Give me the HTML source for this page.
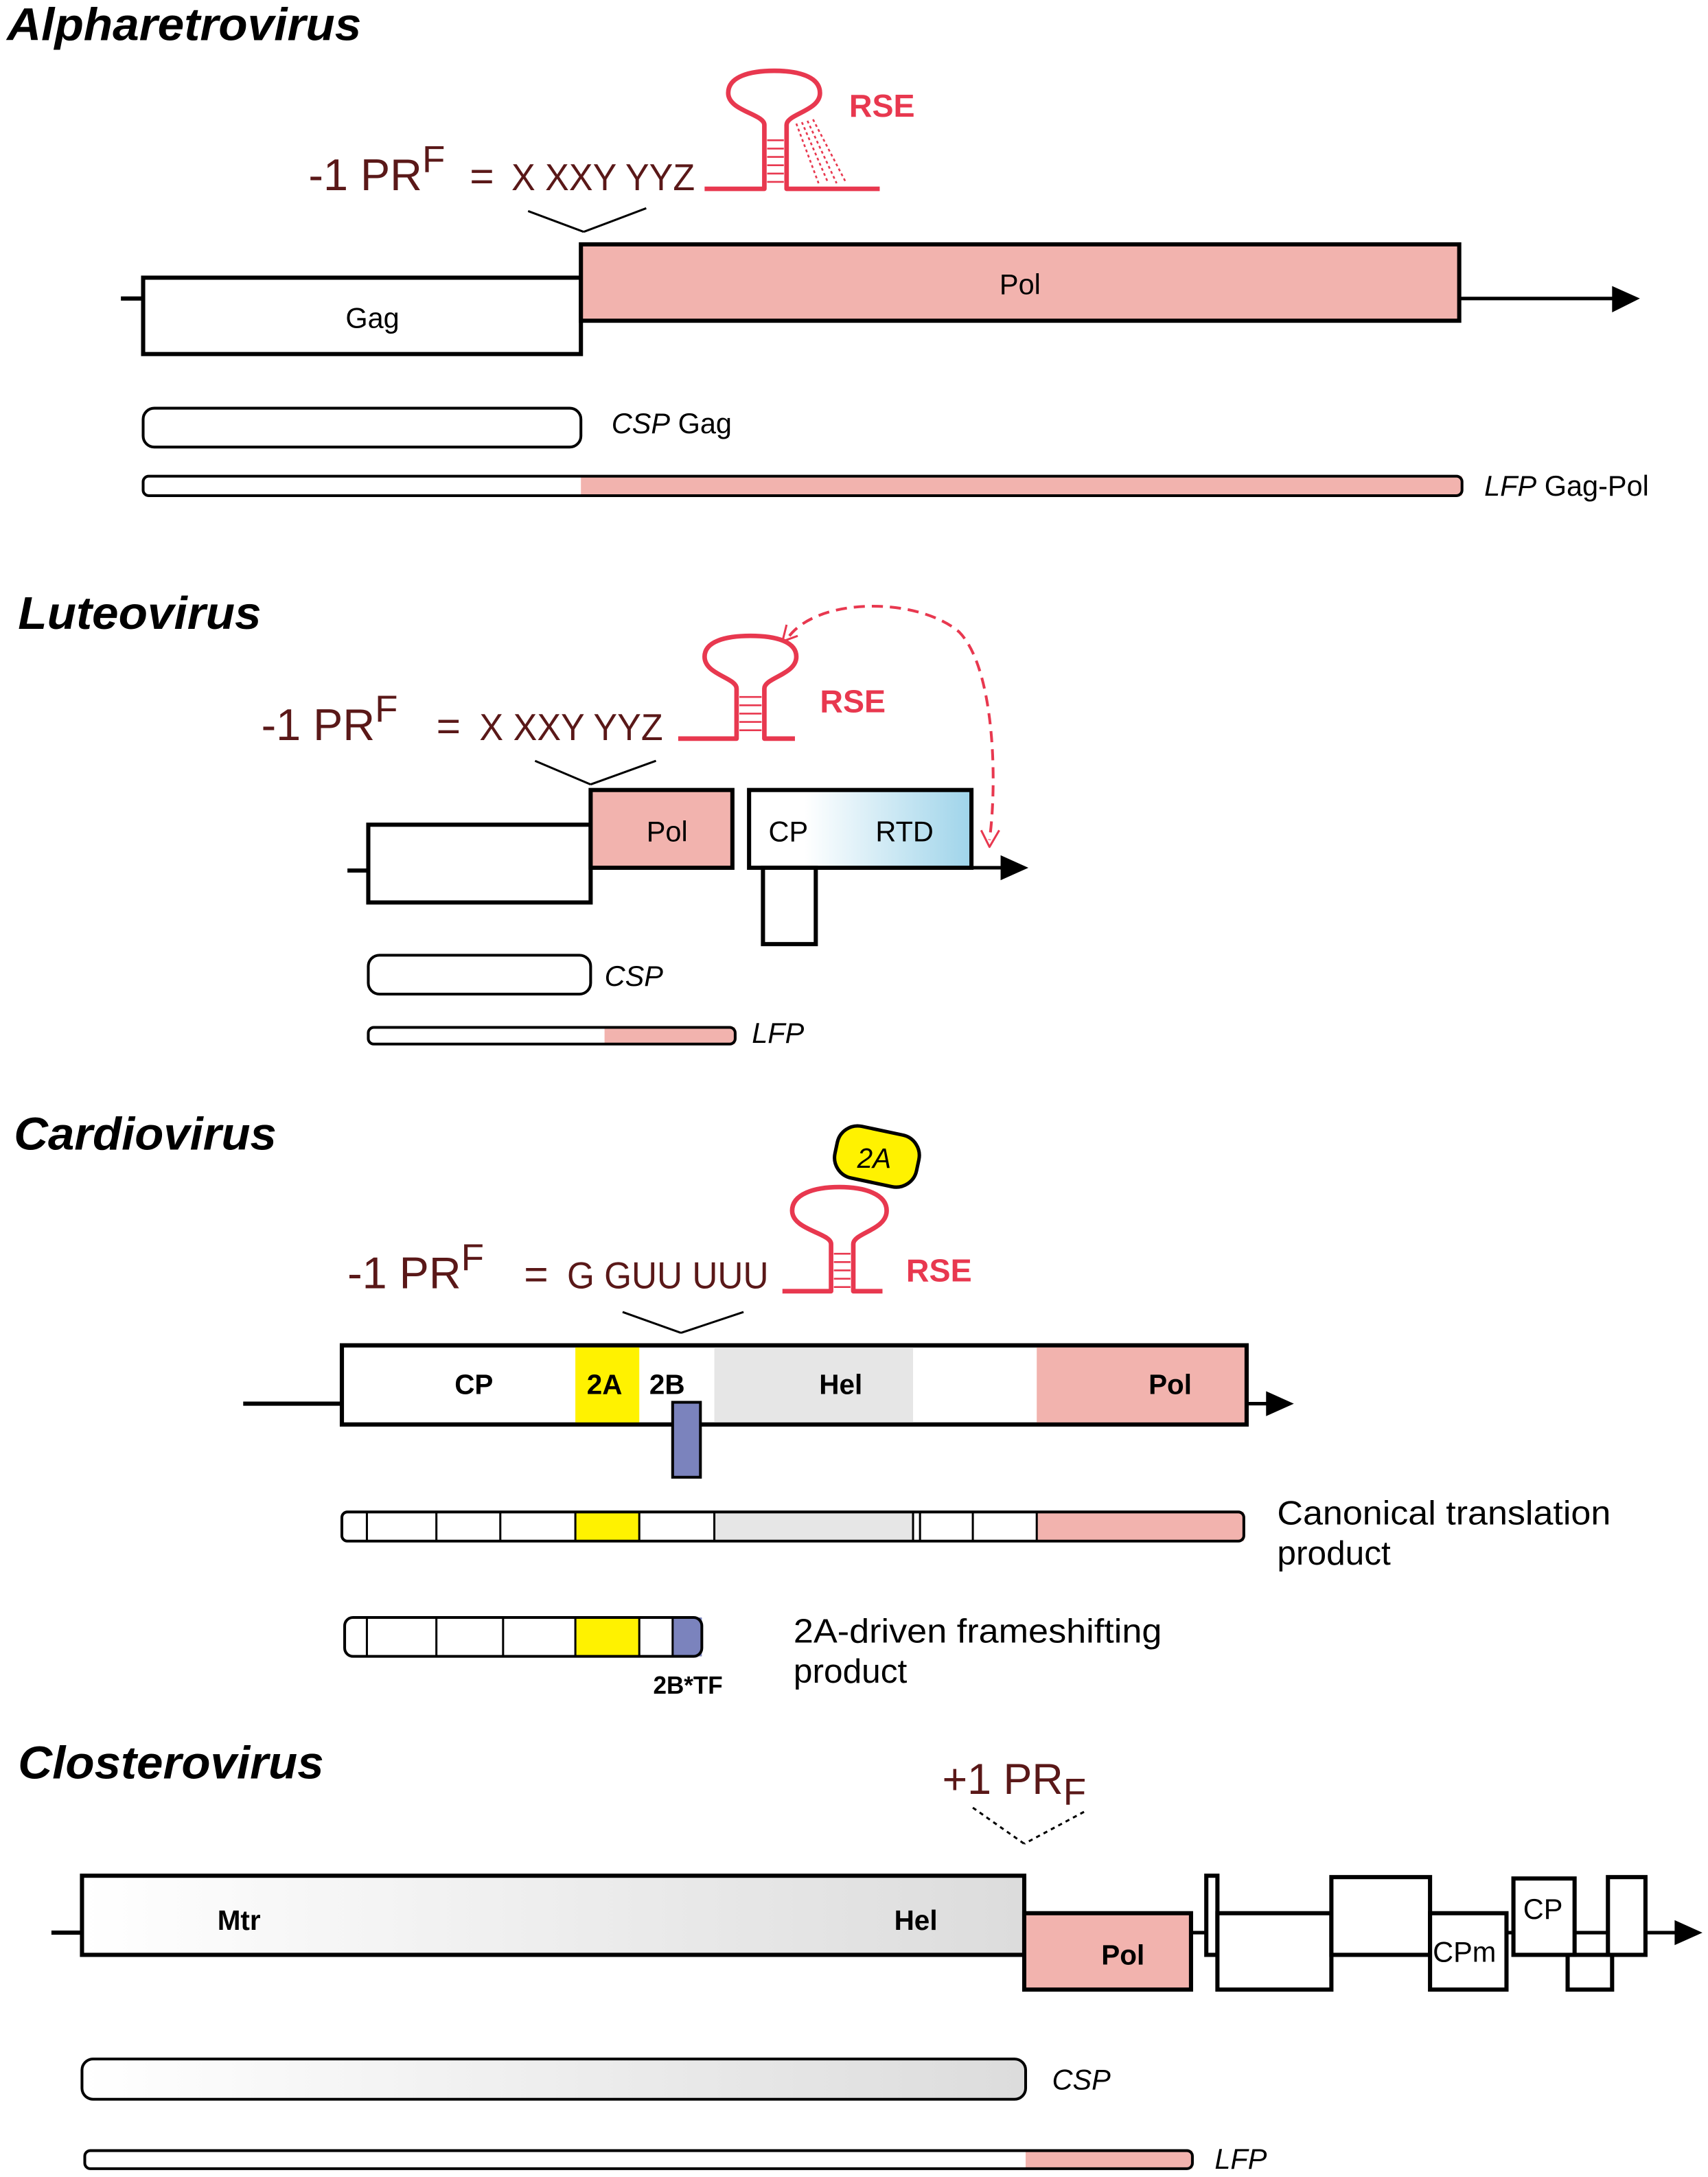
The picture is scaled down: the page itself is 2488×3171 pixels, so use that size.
<!DOCTYPE html>
<html><head><meta charset="utf-8"><style>
html,body{margin:0;padding:0;background:#fff;}
svg{display:block;}
text{font-family:"Liberation Sans",Arial,sans-serif;}
</style></head><body>
<svg width="2488" height="3171" viewBox="0 0 1229 1568" preserveAspectRatio="none" xmlns="http://www.w3.org/2000/svg">
<defs>
<linearGradient id="blue" x1="0" x2="1" y1="0" y2="0"><stop offset="0.25" stop-color="#fff"/><stop offset="1" stop-color="#9fd4ea"/></linearGradient>
<linearGradient id="gray" x1="0" x2="1" y1="0" y2="0"><stop offset="0" stop-color="#fff"/><stop offset="1" stop-color="#dcdcdc"/></linearGradient>
</defs>
<g stroke="#000" stroke-width="3" fill="none">
<!-- Alpharetrovirus -->
<line x1="87" y1="215" x2="103" y2="215"/>
<rect x="103" y="200" width="315" height="55" fill="#fff"/>
<rect x="418" y="176" width="632" height="55" fill="#f2b3ae"/>
<line x1="1050" y1="215" x2="1162" y2="215" stroke-width="2.5"/>
<path d="M1160,206 L1180,215 L1160,225 Z" fill="#000" stroke="none"/>
<line x1="380" y1="152" x2="420" y2="167" stroke-width="1.5"/>
<line x1="465" y1="150" x2="420" y2="167" stroke-width="1.5"/>
<rect x="103" y="294" width="315" height="28" rx="8" fill="#fff" stroke-width="2"/>
<rect x="103" y="343" width="315" height="14" fill="#fff" stroke="none"/>
<rect x="418" y="343" width="634" height="14" fill="#f2b3ae" stroke="none"/>
<rect x="103" y="343" width="949" height="14" rx="4" stroke-width="2"/>
<!-- Luteovirus -->
<line x1="250" y1="627" x2="265" y2="627"/>
<rect x="265" y="594" width="160" height="56" fill="#fff"/>
<rect x="425" y="569" width="102" height="56" fill="#f2b3ae"/>
<rect x="539" y="569" width="160" height="56" fill="url(#blue)"/>
<rect x="549" y="625" width="38" height="55" fill="#fff"/>
<line x1="699" y1="625" x2="722" y2="625" stroke-width="2.5"/>
<path d="M720,616 L740,625 L720,634 Z" fill="#000" stroke="none"/>
<line x1="385" y1="548" x2="425" y2="565" stroke-width="1.5"/>
<line x1="472" y1="548" x2="425" y2="565" stroke-width="1.5"/>
<rect x="265" y="688" width="160" height="28" rx="8" fill="#fff" stroke-width="2"/>
<rect x="265" y="740" width="170" height="12" fill="#fff" stroke="none"/>
<rect x="435" y="740" width="94" height="12" fill="#f2b3ae" stroke="none"/>
<rect x="265" y="740" width="264" height="12" rx="4" stroke-width="2"/>
<!-- Cardiovirus -->
<line x1="175" y1="1011" x2="246" y2="1011"/>
<rect x="246" y="969" width="651" height="57" fill="#fff"/>
<rect x="414" y="970" width="46" height="55" fill="#fff200" stroke="none"/>
<rect x="514" y="970" width="143" height="55" fill="#e6e6e6" stroke="none"/>
<rect x="746" y="970" width="150" height="55" fill="#f2b3ae" stroke="none"/>
<rect x="246" y="969" width="651" height="57"/>
<line x1="897" y1="1011" x2="913" y2="1011" stroke-width="2.5"/>
<path d="M911,1002 L931,1011 L911,1020 Z" fill="#000" stroke="none"/>
<rect x="484" y="1010" width="20" height="54" fill="#7b83bd" stroke-width="2"/>
<line x1="448" y1="945" x2="490" y2="960" stroke-width="1.5"/>
<line x1="535" y1="945" x2="490" y2="960" stroke-width="1.5"/>
<rect x="246" y="1089" width="649" height="21" fill="#fff" stroke="none"/>
<rect x="414" y="1089" width="46" height="21" fill="#fff200" stroke="none"/>
<rect x="514" y="1089" width="143" height="21" fill="#e6e6e6" stroke="none"/>
<rect x="746" y="1089" width="149" height="21" fill="#f2b3ae" stroke="none"/>
<g stroke-width="1.5">
<line x1="264" y1="1089" x2="264" y2="1110"/><line x1="314" y1="1089" x2="314" y2="1110"/><line x1="360" y1="1089" x2="360" y2="1110"/><line x1="414" y1="1089" x2="414" y2="1110"/><line x1="460" y1="1089" x2="460" y2="1110"/><line x1="514" y1="1089" x2="514" y2="1110"/><line x1="657" y1="1089" x2="657" y2="1110"/><line x1="662" y1="1089" x2="662" y2="1110"/><line x1="700" y1="1089" x2="700" y2="1110"/><line x1="746" y1="1089" x2="746" y2="1110"/>
</g>
<rect x="246" y="1089" width="649" height="21" rx="4" stroke-width="2"/>
<rect x="248" y="1165" width="257" height="28" fill="#fff" stroke="none"/>
<rect x="414" y="1165" width="46" height="28" fill="#fff200" stroke="none"/>
<rect x="484" y="1165" width="21" height="28" fill="#7b83bd" stroke="none"/>
<g stroke-width="1.5">
<line x1="264" y1="1165" x2="264" y2="1193"/><line x1="314" y1="1165" x2="314" y2="1193"/><line x1="362" y1="1165" x2="362" y2="1193"/><line x1="414" y1="1165" x2="414" y2="1193"/><line x1="460" y1="1165" x2="460" y2="1193"/><line x1="484" y1="1165" x2="484" y2="1193"/>
</g>
<rect x="248" y="1165" width="257" height="28" rx="6" stroke-width="2"/>
<!-- Closterovirus -->
<line x1="37" y1="1392" x2="59" y2="1392"/>
<rect x="59" y="1351" width="678" height="57" fill="url(#gray)"/>
<line x1="857" y1="1392" x2="1208" y2="1392" stroke-width="2.5"/>
<path d="M1205,1383 L1225,1392 L1205,1401 Z" fill="#000" stroke="none"/>
<rect x="737" y="1378" width="120" height="55" fill="#f2b3ae"/>
<rect x="868" y="1351" width="8" height="57" fill="#fff"/>
<rect x="876" y="1378" width="82" height="55" fill="#fff"/>
<rect x="958" y="1352" width="71" height="56" fill="#fff"/>
<rect x="1029" y="1378" width="55" height="55" fill="#fff"/>
<rect x="1128" y="1408" width="32" height="25" fill="#fff"/>
<rect x="1089" y="1353" width="44" height="55" fill="#fff"/>
<rect x="1157" y="1352" width="27" height="56" fill="#fff"/>
<line x1="700" y1="1302" x2="737" y2="1328" stroke-width="1.5" stroke-dasharray="3,3"/>
<line x1="780" y1="1305" x2="737" y2="1328" stroke-width="1.5" stroke-dasharray="3,3"/>
<rect x="59" y="1483" width="679" height="29" rx="8" fill="url(#gray)" stroke-width="2"/>
<rect x="61" y="1549" width="677" height="13" fill="#fff" stroke="none"/>
<rect x="738" y="1549" width="120" height="13" fill="#f2b3ae" stroke="none"/>
<rect x="61" y="1549" width="797" height="13" rx="4" stroke-width="2"/>
</g>
<!-- RSE hairpins -->
<g stroke="#e8384f" stroke-width="3.3" fill="none" stroke-linejoin="round">
<path d="M507,136 L550,136 L550,90 C550,82 524,80 524,67 C524,55 540,51 557,51 C574,51 590,55 590,67 C590,80 566,82 566,90 L566,136 L633,136"/>
<g stroke-width="1.3"><line x1="552" y1="101" x2="564" y2="101"/><line x1="552" y1="107" x2="564" y2="107"/><line x1="552" y1="113" x2="564" y2="113"/><line x1="552" y1="119" x2="564" y2="119"/><line x1="552" y1="125" x2="564" y2="125"/><line x1="552" y1="131" x2="564" y2="131"/></g>
<g stroke-width="1.3" stroke-dasharray="2,2"><line x1="573" y1="89" x2="589" y2="132"/><line x1="577" y1="88" x2="596" y2="132"/><line x1="581" y1="87" x2="602" y2="132"/><line x1="585" y1="86" x2="609" y2="132"/></g>
<path d="M488,532 L530,532 L530,496 C530,488 507,486 507,473 C507,462 522,458 540,458 C558,458 573,462 573,473 C573,486 550,488 550,496 L550,532 L572,532"/>
<g stroke-width="1.3"><line x1="532" y1="502" x2="548" y2="502"/><line x1="532" y1="508" x2="548" y2="508"/><line x1="532" y1="514" x2="548" y2="514"/><line x1="532" y1="520" x2="548" y2="520"/><line x1="532" y1="526" x2="548" y2="526"/></g>
<path d="M563,930 L598,930 L598,896 C598,888 570,886 570,872 C570,860 586,855 604,855 C622,855 638,860 638,872 C638,886 614,888 614,896 L614,930 L635,930"/>
<g stroke-width="1.3"><line x1="600" y1="903" x2="612" y2="903"/><line x1="600" y1="909" x2="612" y2="909"/><line x1="600" y1="915" x2="612" y2="915"/><line x1="600" y1="921" x2="612" y2="921"/><line x1="600" y1="927" x2="612" y2="927"/></g>
<path d="M568,458 C590,430 660,430 690,455 C715,480 718,560 712,605" stroke-width="2" stroke-dasharray="8,5"/>
<path d="M566,450 L563,462 L574,458" stroke-width="1.5"/>
<path d="M706,598 L712,610 L719,598" stroke-width="1.5"/>
</g>
<!-- 2A blob -->
<rect x="601" y="814" width="60" height="38" rx="15" fill="#fff200" stroke="#000" stroke-width="2.5" transform="rotate(12 631 833)"/>
<text x="629" y="841" font-size="20" font-style="italic" text-anchor="middle">2A</text>
<!-- Text -->
<g font-weight="bold" font-style="italic" font-size="33">
<text x="5" y="29" textLength="255" lengthAdjust="spacingAndGlyphs">Alpharetrovirus</text>
<text x="13" y="453" textLength="175" lengthAdjust="spacingAndGlyphs">Luteovirus</text>
<text x="10" y="828" textLength="189" lengthAdjust="spacingAndGlyphs">Cardiovirus</text>
<text x="13" y="1281" textLength="220" lengthAdjust="spacingAndGlyphs">Closterovirus</text>
</g>
<g fill="#5a1818">
<text x="222" y="137" font-size="32">-1 PR<tspan dy="-13" font-size="27">F</tspan></text>
<text x="338" y="137" font-size="30">=</text>
<text x="368" y="137" font-size="27" textLength="132" lengthAdjust="spacingAndGlyphs">X XXY YYZ</text>
<text x="188" y="533" font-size="32">-1 PR<tspan dy="-13" font-size="27">F</tspan></text>
<text x="314" y="533" font-size="30">=</text>
<text x="345" y="533" font-size="27" textLength="132" lengthAdjust="spacingAndGlyphs">X XXY YYZ</text>
<text x="250" y="928" font-size="32">-1 PR<tspan dy="-13" font-size="27">F</tspan></text>
<text x="377" y="928" font-size="30">=</text>
<text x="408" y="928" font-size="27" textLength="145" lengthAdjust="spacingAndGlyphs">G GUU UUU</text>
<text x="678" y="1292" font-size="31">+1 PR<tspan dy="8" font-size="27">F</tspan></text>
</g>
<g fill="#e8384f" font-weight="bold" font-size="23">
<text x="611" y="84">RSE</text><text x="590" y="513">RSE</text><text x="652" y="923">RSE</text>
</g>
<g font-size="20.5">
<text x="268" y="236" text-anchor="middle">Gag</text>
<text x="734" y="212" text-anchor="middle">Pol</text>
<text x="440" y="312"><tspan font-style="italic">CSP</tspan> Gag</text>
<text x="1068" y="357"><tspan font-style="italic">LFP</tspan> Gag-Pol</text>
<text x="480" y="606" text-anchor="middle">Pol</text>
<text x="553" y="606">CP</text><text x="630" y="606">RTD</text>
<text x="435" y="710" font-style="italic">CSP</text>
<text x="541" y="751" font-style="italic">LFP</text>
<text x="757" y="1505" font-style="italic">CSP</text>
<text x="874" y="1562" font-style="italic">LFP</text>
<text x="1031" y="1413">CPm</text>
<text x="1096" y="1382">CP</text>
</g>
<g font-size="24.5">
<text x="919" y="1098" textLength="240" lengthAdjust="spacingAndGlyphs">Canonical translation</text><text x="919" y="1127">product</text>
<text x="571" y="1183" textLength="265" lengthAdjust="spacingAndGlyphs">2A-driven frameshifting</text><text x="571" y="1212">product</text>
</g>
<g font-weight="bold" font-size="20">
<text x="341" y="1004" text-anchor="middle">CP</text>
<text x="435" y="1004" text-anchor="middle">2A</text>
<text x="480" y="1004" text-anchor="middle">2B</text>
<text x="605" y="1004" text-anchor="middle">Hel</text>
<text x="842" y="1004" text-anchor="middle">Pol</text>
<text x="470" y="1220" font-size="18" textLength="50" lengthAdjust="spacingAndGlyphs">2B*TF</text>
<text x="172" y="1390" text-anchor="middle">Mtr</text>
<text x="659" y="1390" text-anchor="middle">Hel</text>
<text x="808" y="1415" text-anchor="middle">Pol</text>
</g>
</svg>
</body></html>
